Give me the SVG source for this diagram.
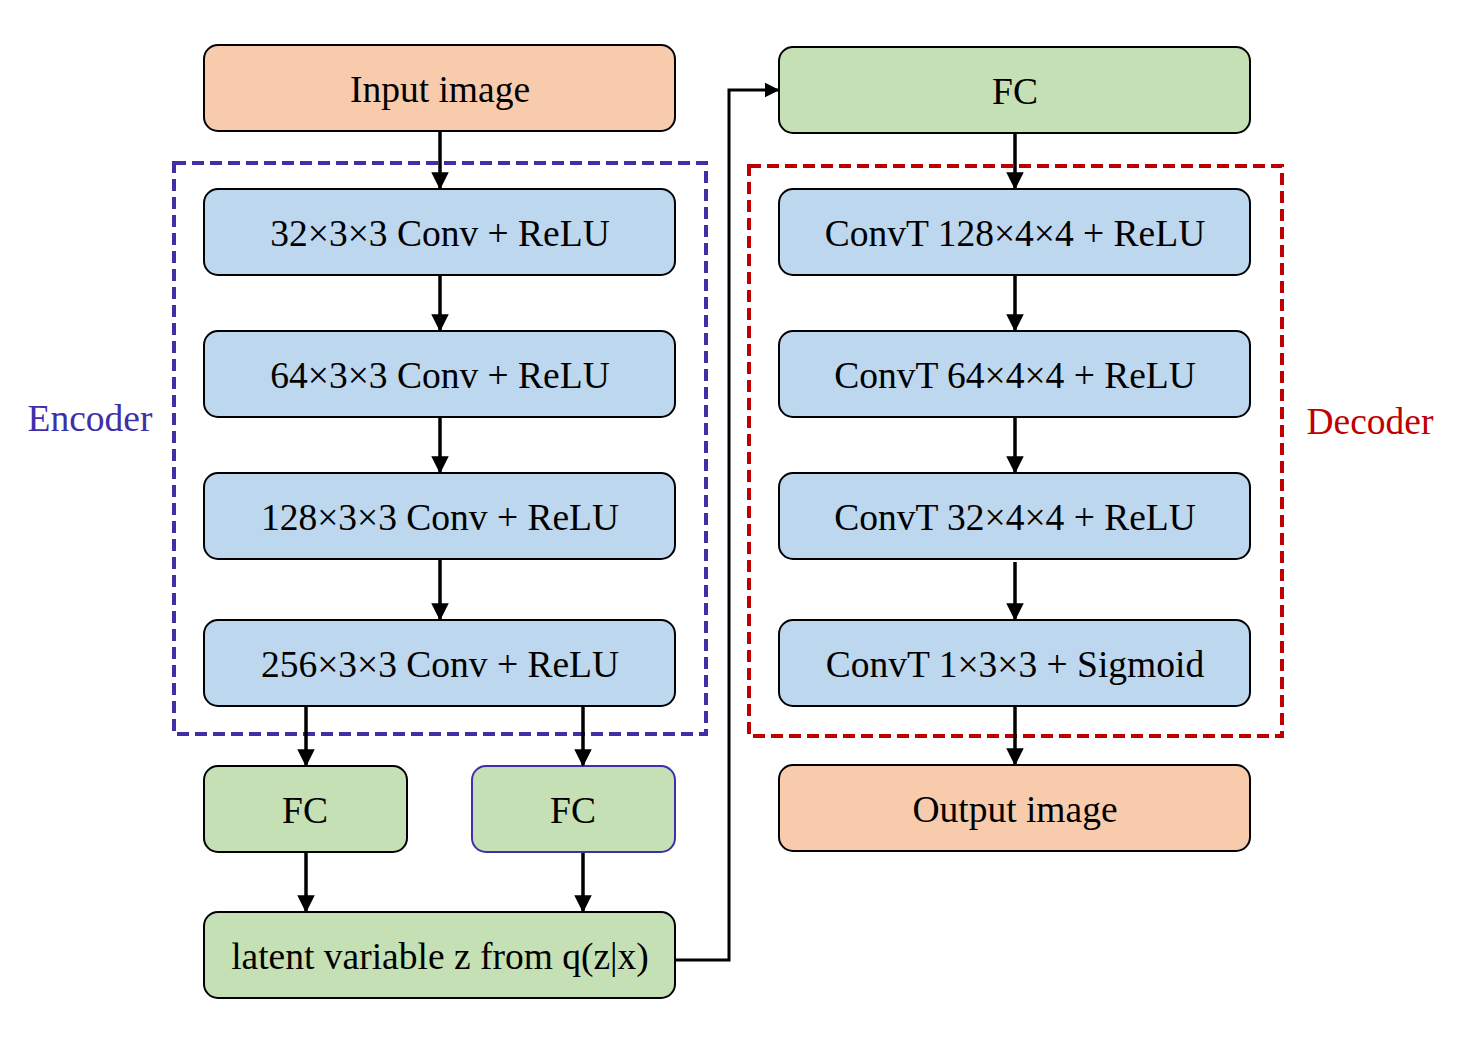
<svg xmlns="http://www.w3.org/2000/svg" width="1465" height="1041" viewBox="0 0 1465 1041">
<style>
rect.n{stroke:#000;stroke-width:2}
.o{fill:#F8CBAD}.b{fill:#BDD7EE}.g{fill:#C5E0B4}
text{font-family:"Liberation Serif",serif;font-size:37.5px;text-anchor:middle;fill:#000}
.c line,.c path{stroke:#000;stroke-width:3.5;fill:none}
</style>
<defs><marker id="a" markerWidth="5" markerHeight="5" refX="4.5" refY="2.5" orient="auto" markerUnits="strokeWidth"><path d="M0,0L5,2.5L0,5z" fill="#000"/></marker></defs>
<rect width="1465" height="1041" fill="#fff"/>
<rect x="174" y="163" width="532" height="571" fill="none" stroke="#3F2FA8" stroke-width="4" stroke-dasharray="12,6"/>
<rect x="749" y="166" width="533" height="570" fill="none" stroke="#C00000" stroke-width="4" stroke-dasharray="12,6"/>
<text x="90" y="431" style="fill:#3F2FA8">Encoder</text>
<text x="1370" y="434" style="fill:#C00000">Decoder</text>
<g id="input"><rect class="n o" x="204" y="45" width="471" height="86" rx="14"/><text x="440" y="102">Input image</text></g>
<g id="e1"><rect class="n b" x="204" y="189" width="471" height="86" rx="14"/><text x="440" y="246">32×3×3 Conv + ReLU</text></g>
<g id="e2"><rect class="n b" x="204" y="331" width="471" height="86" rx="14"/><text x="440" y="388">64×3×3 Conv + ReLU</text></g>
<g id="e3"><rect class="n b" x="204" y="473" width="471" height="86" rx="14"/><text x="440" y="530">128×3×3 Conv + ReLU</text></g>
<g id="e4"><rect class="n b" x="204" y="620" width="471" height="86" rx="14"/><text x="440" y="677">256×3×3 Conv + ReLU</text></g>
<g id="fc1"><rect class="n g" x="204" y="766" width="203" height="86" rx="14"/><text x="305" y="823">FC</text></g>
<g id="fc2"><rect class="g" x="472" y="766" width="203" height="86" rx="14" stroke="#3F2FA8" stroke-width="2"/><text x="573" y="823">FC</text></g>
<g id="latent"><rect class="n g" x="204" y="912" width="471" height="86" rx="14"/><text x="440" y="969">latent variable z from q(z|x)</text></g>
<g id="fc3"><rect class="n g" x="779" y="47" width="471" height="86" rx="14"/><text x="1015" y="104">FC</text></g>
<g id="d1"><rect class="n b" x="779" y="189" width="471" height="86" rx="14"/><text x="1015" y="246">ConvT 128×4×4 + ReLU</text></g>
<g id="d2"><rect class="n b" x="779" y="331" width="471" height="86" rx="14"/><text x="1015" y="388">ConvT 64×4×4 + ReLU</text></g>
<g id="d3"><rect class="n b" x="779" y="473" width="471" height="86" rx="14"/><text x="1015" y="530">ConvT 32×4×4 + ReLU</text></g>
<g id="d4"><rect class="n b" x="779" y="620" width="471" height="86" rx="14"/><text x="1015" y="677">ConvT 1×3×3 + Sigmoid</text></g>
<g id="output"><rect class="n o" x="779" y="765" width="471" height="86" rx="14"/><text x="1015" y="822">Output image</text></g>
<g class="c">
<line x1="440" y1="132" x2="440" y2="188" marker-end="url(#a)"/>
<line x1="440" y1="276" x2="440" y2="330" marker-end="url(#a)"/>
<line x1="440" y1="418" x2="440" y2="472" marker-end="url(#a)"/>
<line x1="440" y1="560" x2="440" y2="619" marker-end="url(#a)"/>
<line x1="306" y1="707" x2="306" y2="765" marker-end="url(#a)"/>
<line x1="583" y1="707" x2="583" y2="765" marker-end="url(#a)"/>
<line x1="306" y1="853" x2="306" y2="911" marker-end="url(#a)"/>
<line x1="583" y1="853" x2="583" y2="911" marker-end="url(#a)"/>
<path d="M676,960H729V90H778" marker-end="url(#a)" style="stroke-width:3"/>
<line x1="1015" y1="134" x2="1015" y2="188" marker-end="url(#a)"/>
<line x1="1015" y1="276" x2="1015" y2="330" marker-end="url(#a)"/>
<line x1="1015" y1="418" x2="1015" y2="472" marker-end="url(#a)"/>
<line x1="1015" y1="562" x2="1015" y2="619" marker-end="url(#a)"/>
<line x1="1015" y1="707" x2="1015" y2="764" marker-end="url(#a)"/>
</g>
</svg>
